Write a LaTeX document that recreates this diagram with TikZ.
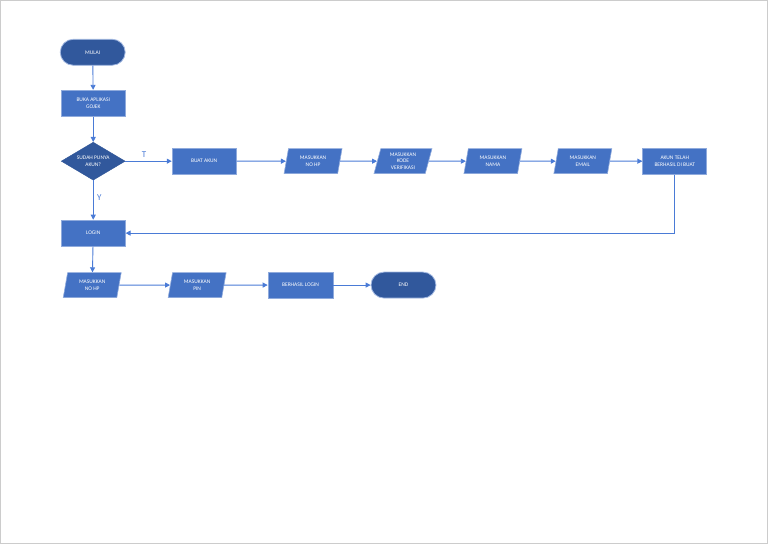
\documentclass[tikz,border=0pt]{standalone}
\usepackage{fontspec}
\setmainfont{Carlito}
\usetikzlibrary{shapes.geometric,arrows.meta}
\definecolor{fb}{HTML}{4472C4}
\definecolor{fd}{HTML}{2F5597}
\definecolor{ln}{HTML}{4A7BD6}
\tikzset{
 base/.style={text=white,font=\fontsize{5.5}{6.5}\selectfont,align=center,inner sep=1pt},
 proc/.style={base,rectangle,fill=fb,draw=fb!60!white,line width=0.8pt,minimum width=64pt,minimum height=26pt},
 term/.style={base,rectangle,rounded corners=13pt,fill=fd!90!fb,draw=fb!50!white,line width=0.8pt,minimum width=65pt,minimum height=26pt},
 io/.style={base,trapezium,trapezium left angle=70,trapezium right angle=110,fill=fb,draw=fb!60!white,line width=0.6pt,minimum width=58pt,minimum height=25pt,trapezium stretches body},
 dec/.style={base,diamond,fill=fd!90!fb,draw=fd,minimum width=64pt,minimum height=38pt,aspect=1.7,inner sep=0pt},
 arr/.style={draw=ln,line width=0.9pt,-{Triangle[length=5pt,width=5pt]}},
 lbl/.style={text=ln,font=\fontsize{9}{10}\selectfont}
}
\begin{document}
\begin{tikzpicture}[x=1pt,y=-1pt]
\draw[gray!40,line width=0.6pt] (0,0) rectangle (768,543);
\useasboundingbox (0,0) rectangle (768,543);
\node[term] (mulai) at (92.5,52) {MULAI};
\node[proc] (buka) at (93,103) {BUKA APLIKASI\\GOJEK};
\node[dec] (sudah) at (93,161) {SUDAH PUNYA\\AKUN?};
\node[proc] (buat) at (204,161) {BUAT AKUN};
\node[io] (hp1) at (313,161) {MASUKKAN\\NO HP};
\node[io] (kode) at (403,161) {MASUKKAN\\KODE\\VERIFIKASI};
\node[io] (nama) at (493,161) {MASUKKAN\\NAMA};
\node[io] (email) at (583,161) {MASUKKAN\\EMAIL};
\node[proc] (akun) at (675,161) {AKUN TELAH\\BERHASIL DI BUAT};
\node[proc] (login) at (93,233) {LOGIN};
\node[io] (hp2) at (92,285) {MASUKKAN\\NO HP};
\node[io] (pin) at (197,285) {MASUKKAN\\PIN};
\node[proc,minimum width=65pt] (ok) at (300.5,285) {BERHASIL LOGIN};
\node[term] (end) at (403.5,285) {END};
\draw[arr] (mulai) -- (buka);
\draw[arr] (buka) -- (sudah);
\draw[arr] (sudah) -- node[lbl,above,pos=0.4] {T} (buat);
\draw[arr] (sudah) -- node[lbl,right,pos=0.45] {Y} (login);
\draw[arr] (buat) -- (hp1);
\draw[arr] (hp1) -- (kode);
\draw[arr] (kode) -- (nama);
\draw[arr] (nama) -- (email);
\draw[arr] (email) -- (akun);
\draw[arr] (akun.south) |- (login.east);
\draw[arr] (login) -- (hp2);
\draw[arr] (hp2) -- (pin);
\draw[arr] (pin) -- (ok);
\draw[arr] (ok) -- (end);
\end{tikzpicture}
\end{document}
